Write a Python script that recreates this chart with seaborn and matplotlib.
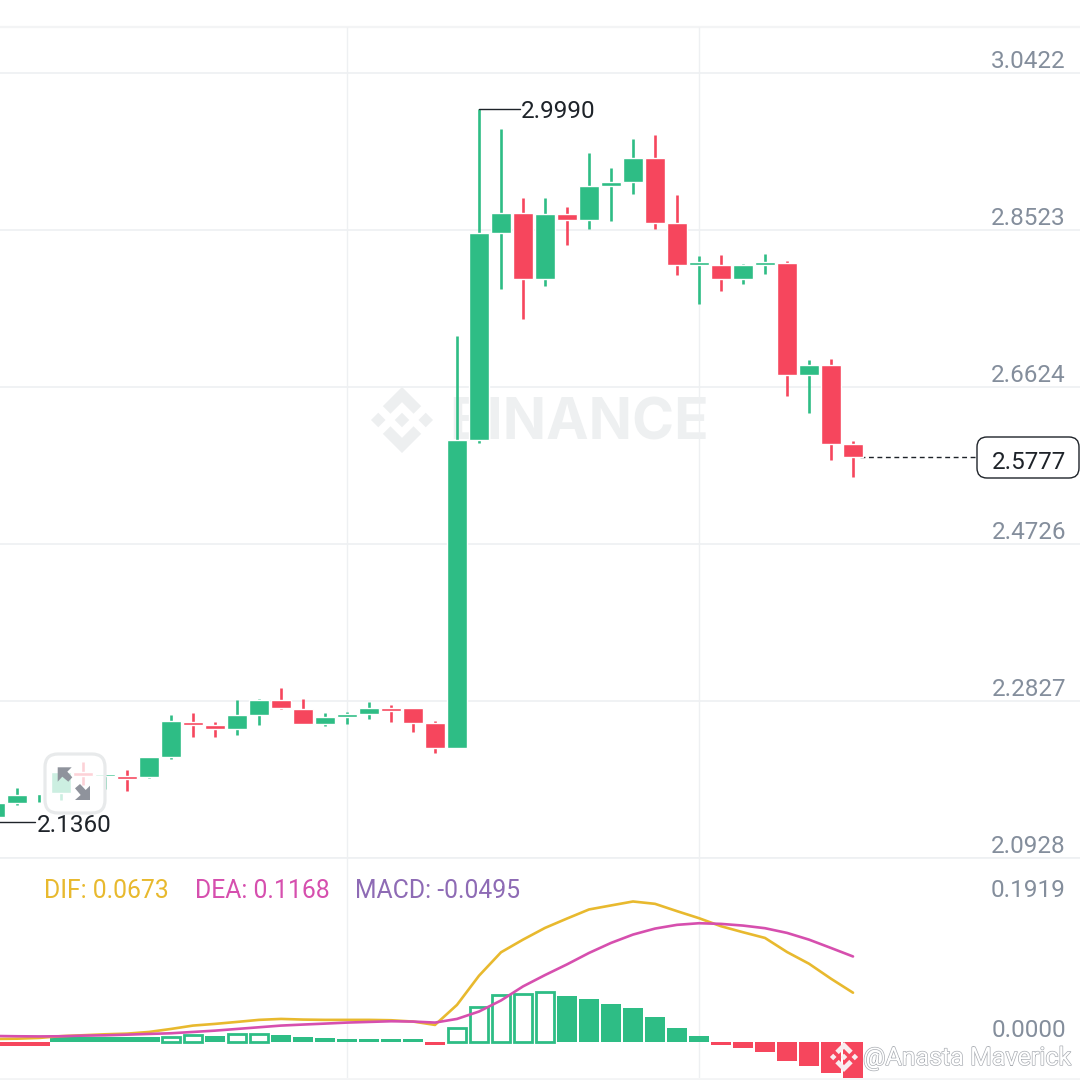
import matplotlib
matplotlib.use('Agg')
import matplotlib.pyplot as plt
import matplotlib.patheffects as pe
from matplotlib.patches import FancyBboxPatch, Polygon
import numpy as np
import pandas as pd
import seaborn as sns

GREEN = '#2EBD85'
RED = '#F6465D'
GRID = '#EEF0F2'
AXIS_TEXT = '#848E9C'
DARK = '#1E2329'

# ── Candles, oldest first ──
opens = [2.1427, 2.1597, 2.1698, 2.1710, 2.1972, 2.1920, 2.1920, 2.1911, 2.2153, 2.2576,
         2.2540, 2.2492, 2.2661, 2.2839, 2.2734, 2.2552, 2.2637, 2.2670, 2.2742, 2.2738,
         2.2557, 2.2258, 2.5983, 2.8483, 2.8732, 2.7927, 2.8713, 2.8648, 2.9055, 2.9100,
         2.9390, 2.8612, 2.8104, 2.8104, 2.7934, 2.8096, 2.8128, 2.6766, 2.6890, 2.5931]
closes = [2.1590, 2.1690, 2.1718, 2.1972, 2.1920, 2.1940, 2.1883, 2.2146, 2.2585, 2.2540,
          2.2492, 2.2661, 2.2839, 2.2738, 2.2552, 2.2637, 2.2670, 2.2746, 2.2710, 2.2557,
          2.2262, 2.5983, 2.8483, 2.8732, 2.7927, 2.8713, 2.8644, 2.9055, 2.9100, 2.9390,
          2.8612, 2.8104, 2.8136, 2.7934, 2.8096, 2.8133, 2.6766, 2.6890, 2.5935, 2.5777]
highs = [2.1590, 2.1771, 2.1718, 2.1972, 2.2093, 2.1940, 2.1992, 2.2146, 2.2657, 2.2678,
         2.2569, 2.2839, 2.2851, 2.2980, 2.2847, 2.2678, 2.2690, 2.2818, 2.2778, 2.2738,
         2.2585, 2.7245, 2.9990, 2.9741, 2.8907, 2.8907, 2.8798, 2.9451, 2.9273, 2.9620,
         2.9672, 2.8943, 2.8212, 2.8221, 2.8112, 2.8233, 2.8145, 2.6951, 2.6959, 2.5971]
lows = [2.1360, 2.1569, 2.1609, 2.1629, 2.1811, 2.1762, 2.1738, 2.1899, 2.2122, 2.2395,
        2.2395, 2.2416, 2.2537, 2.2730, 2.2552, 2.2528, 2.2552, 2.2605, 2.2576, 2.2455,
        2.2201, 2.2258, 2.5951, 2.7813, 2.7450, 2.7846, 2.8342, 2.8535, 2.8632, 2.8955,
        2.8535, 2.7975, 2.7625, 2.7789, 2.7870, 2.7991, 2.6519, 2.6314, 2.5738, 2.5540]

# ── MACD pane ──
macd = [-0.0058, -0.0058, -0.0058, 0.0065, 0.0065, 0.0065, 0.0065, 0.0065, 0.0073, 0.0096,
        0.0082, 0.0105, 0.0114, 0.0091, 0.0069, 0.0050, 0.0041, 0.0037, 0.0037, 0.0034,
        -0.0036, 0.0192, 0.0476, 0.0636, 0.0650, 0.0677, 0.0622, 0.0590, 0.0522, 0.0462,
        0.0343, 0.0192, 0.0082, -0.0037, -0.0087, -0.0133, -0.0260, -0.0329, -0.0430, -0.0495]
hollow = [8, 9, 11, 12, 21, 22, 23, 24, 25]
dif = [0.0041, 0.0045, 0.0055, 0.0080, 0.0092, 0.0105, 0.0114, 0.0137, 0.0178, 0.0224,
       0.0247, 0.0274, 0.0302, 0.0315, 0.0306, 0.0302, 0.0302, 0.0302, 0.0297, 0.0279,
       0.0233, 0.0507, 0.0905, 0.1225, 0.1398, 0.1558, 0.1686, 0.1810, 0.1865, 0.1919,
       0.1887, 0.1787, 0.1691, 0.1581, 0.1499, 0.1421, 0.1229, 0.1069, 0.0864, 0.0673]
dea = [0.0082, 0.0078, 0.0076, 0.0078, 0.0087, 0.0091, 0.0100, 0.0110, 0.0119, 0.0137,
       0.0155, 0.0178, 0.0201, 0.0224, 0.0238, 0.0251, 0.0265, 0.0274, 0.0283, 0.0279,
       0.0265, 0.0315, 0.0416, 0.0567, 0.0759, 0.0914, 0.1060, 0.1216, 0.1353, 0.1467,
       0.1549, 0.1600, 0.1622, 0.1613, 0.1590, 0.1554, 0.1490, 0.1398, 0.1284, 0.1168]

price_ticks = [3.0422, 2.8523, 2.6624, 2.4726, 2.2827, 2.0928]
macd_ticks = [0.1919, 0.0000]
vgrid_idx = [16, 32]
indicator_labels = ['DIF: 0.0673', 'DEA: 0.1168', 'MACD: -0.0495']
indicator_colors = ['#E8B92E', '#D64FAE', '#8E6BB5']
indicator_px = [44, 195, 355]

sns.set_theme(style='white')
plt.rcParams['font.family'] = ['Roboto', 'DejaVu Sans']

idx = np.arange(len(opens))
candles = pd.DataFrame({'idx': idx, 'open': opens, 'close': closes, 'high': highs, 'low': lows})
candles['up'] = candles['close'] >= candles['open']
candles['color'] = np.where(candles['up'], GREEN, RED)
osc = pd.DataFrame({'idx': idx, 'macd': macd, 'dif': dif, 'dea': dea})
osc['hollow'] = osc['idx'].isin(hollow)
osc['early'] = osc['idx'] < 8

fig = plt.figure(figsize=(10.8, 10.8), dpi=100, facecolor='white')

# pixel space layers, one behind the chart, one above it
bg = fig.add_axes([0, 0, 1, 1], zorder=0)
fg = fig.add_axes([0, 0, 1, 1], zorder=5)
for layer in (bg, fg):
    layer.set_xlim(0, 1080)
    layer.set_ylim(1080, 0)
    layer.axis('off')
    layer.patch.set_alpha(0)

ax = fig.add_axes([0, 222 / 1080, 1, 831 / 1080], zorder=1)
ax2 = fig.add_axes([0, 2 / 1080, 1, 220 / 1080], zorder=1)
x_left, x_right = 5 / 22, 1085 / 22

for a in (ax, ax2):
    a.patch.set_alpha(0)
    for s in a.spines.values():
        s.set_visible(False)


def axis_labels(a, ticks):
    for t in ticks:
        a.annotate(f'{t:.4f}', xy=(1066 / 1080, t), xycoords=a.get_yaxis_transform(),
                   xytext=(0, 8), textcoords='offset points', ha='right', va='center',
                   fontsize=17.5, color=AXIS_TEXT)


# ── Price pane ──
ax.hlines(price_ticks, x_left, x_right, color=GRID, lw=1.2, zorder=1)
ax.vlines(vgrid_idx, 0, 1, transform=ax.get_xaxis_transform(), color=GRID, lw=1, zorder=1)
ax.vlines(candles['idx'], candles['low'], candles['high'], color=candles['color'], lw=1.9, zorder=3)
ax.bar(candles['idx'], (candles['close'] - candles['open']).abs(),
       bottom=candles[['open', 'close']].min(axis=1), width=0.88,
       color=candles['color'], zorder=4)
ax.set_xlim(x_left, x_right)
ax.set_ylim(2.0928, 3.0978)
ax.set_xticks([])
ax.set_yticks([])
axis_labels(ax, price_ticks)

# extreme markers
hi = int(np.argmax(highs))
lo = int(np.argmin(lows))
ax.plot([hi, hi + 1.85], [highs[hi], highs[hi]], color=DARK, lw=1, zorder=3)
ax.annotate(f'{highs[hi]:.4f}', xy=(hi + 1.92, highs[hi]), xytext=(0, -1.8), textcoords='offset points',
            va='center', fontsize=17.5, color=DARK)
ax.plot([lo, lo + 1.83], [lows[lo], lows[lo]], color=DARK, lw=1, zorder=3)
ax.annotate(f'{lows[lo]:.4f}', xy=(lo + 1.92, lows[lo]), xytext=(0, -2.2), textcoords='offset points',
            va='center', fontsize=17.5, color=DARK)

# last price tag, the dashes stop at the box
last = closes[-1]
ax.plot([idx[-1] + 0.3, 977 / 22 + x_left], [last, last], color=DARK, lw=1, ls=(0, (3.5, 2.6)), zorder=3)
ax.annotate(f'{last:.4f}', xy=(1029 / 1080, last), xycoords=ax.get_yaxis_transform(),
            xytext=(0, -3.6), textcoords='offset points', ha='center', va='center',
            fontsize=17.5, color=DARK, zorder=6)
fg.add_patch(FancyBboxPatch((981, 441), 94, 33, boxstyle='round,pad=4,rounding_size=10',
                            fc='none', ec=DARK, lw=1))

# ── MACD pane ──
ax2.vlines(vgrid_idx, 0, 1, transform=ax2.get_xaxis_transform(), color=GRID, lw=1, zorder=1)
solid = osc[~osc['hollow']]
groups = [
    (solid[(solid['macd'] >= 0) & ~solid['early']], GREEN, 0.88),
    (solid[(solid['macd'] < 0) & ~solid['early']], RED, 0.88),
    (solid[(solid['macd'] >= 0) & solid['early']], GREEN, 0.97),
    (solid[(solid['macd'] < 0) & solid['early']], RED, 0.97),
]
for group, color, bar_width in groups:
    sns.barplot(data=group, x='idx', y='macd', native_scale=True, width=bar_width, color=color,
                saturation=1, errorbar=None, ax=ax2, linewidth=0, zorder=3)
sns.barplot(data=osc[osc['hollow']], x='idx', y='macd', native_scale=True, width=0.8, color=GREEN,
            saturation=1, errorbar=None, ax=ax2, fill=False, linewidth=2, zorder=3)
sns.lineplot(data=osc, x='idx', y='dif', color=indicator_colors[0], lw=1.9, ax=ax2, zorder=4)
sns.lineplot(data=osc, x='idx', y='dea', color=indicator_colors[1], lw=1.9, ax=ax2, zorder=5)
ax2.set_xlim(x_left, x_right)
ax2.set_ylim(-0.0492, 0.2513)
ax2.set_xlabel('')
ax2.set_ylabel('')
ax2.set_xticks([])
ax2.set_yticks([])
axis_labels(ax2, macd_ticks)

for label, color, px in zip(indicator_labels, indicator_colors, indicator_px):
    fg.text(px, 890.5, label, color=color, fontsize=17.8, va='center')

# ── Frame lines ──
bg.axhline(27, color='#F3F4F5', lw=1.6)
bg.axhline(858, color=GRID, lw=1.2)
bg.axhline(1079, color='#F3F4F5', lw=2)


def binance_logo(layer, cx, cy, r, color, **kw):
    chevron = np.array([(0, 1), (.58, .42), (.35, .19), (0, .54), (-.35, .19), (-.58, .42)])
    small = np.array([(0, .22), (.22, 0), (0, -.22), (-.22, 0)])
    shapes = [chevron, chevron * [1, -1], small, small + [.72, 0], small - [.72, 0]]
    for shape in shapes:
        layer.add_patch(Polygon(shape * r + [cx, cy], closed=True, fc=color, ec='none', **kw))


# ── Watermark ──
binance_logo(bg, 402, 420, 33, '#EDEFF0')
bg.text(449, 425, 'BINANCE', fontsize=41, fontweight='bold', family='Inter', color='#EEF0F1',
        ha='left', va='center')

# ── Expand button ──
fg.add_patch(FancyBboxPatch((49, 758), 52, 51, boxstyle='round,pad=4,rounding_size=13',
                            fc='white', ec='none', alpha=0.76))
fg.add_patch(FancyBboxPatch((49, 758), 52, 51, boxstyle='round,pad=4,rounding_size=13',
                            fc='none', ec='#E8EAEB', lw=2.3))
arrow_up = np.array([(57.7, 767.3), (71.7, 767.3), (67.3, 771.7), (72.3, 777.3),
                     (68.3, 781.7), (62.3, 776.7), (57.7, 781.7)])
arrow_down = np.array([(90, 800), (90, 785.7), (85.7, 790), (80, 784),
                       (75, 788.3), (80.7, 795), (75, 800)])
for arrow in (arrow_up, arrow_down):
    fg.add_patch(Polygon(arrow, closed=True, fc='#8F939C', ec='none'))

# ── Author stamp ──
binance_logo(fg, 844, 1057, 15, '#F9ECEF')
stamp = fg.text(863, 1058, '@Anasta Maverick', fontsize=18, color='white', va='center')
stamp.set_path_effects([pe.withStroke(linewidth=1.0, foreground='#A9ADB3')])

fig.savefig('out.png', dpi=100)
